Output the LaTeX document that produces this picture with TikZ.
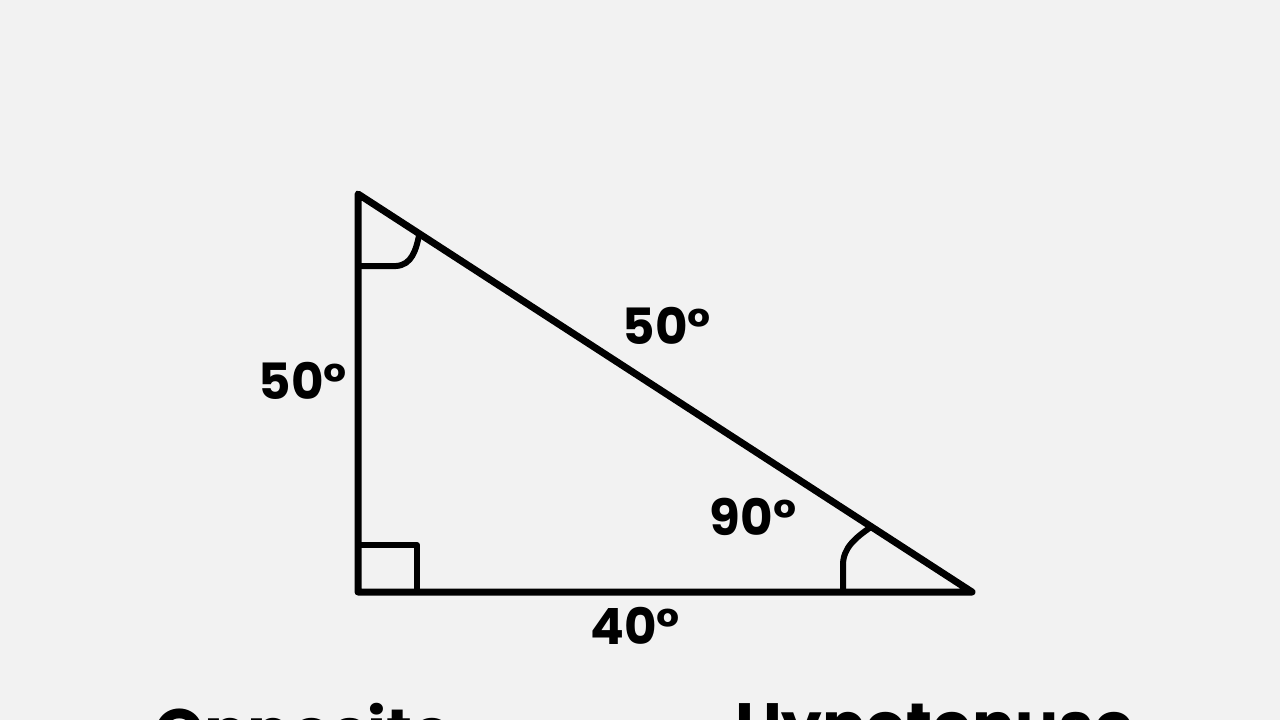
\documentclass[tikz,border=0pt]{standalone}
\usepackage{fontspec}
\setmainfont{Poppins}
\usetikzlibrary{calc}
\definecolor{bg}{HTML}{F2F2F2}
\tikzset{
  edge/.style={line width=7pt, line join=round, line cap=round, black},
  anglemark/.style={line width=6pt, line join=round, black},
  lbl/.style={font=\fontsize{50}{56}\selectfont\bfseries, inner sep=0pt, text=black},
  big/.style={font=\fontsize{64}{70}\selectfont\bfseries, inner sep=0pt, anchor=north west, text=black}
}
\begin{document}
\begin{tikzpicture}[x=1pt,y=-1pt]
\useasboundingbox (0,0) rectangle (1280,720);
\fill[bg] (0,0) rectangle (1280,720);
\clip (0,0) rectangle (1280,720);
\coordinate (A) at (358,194);
\coordinate (B) at (358,592);
\coordinate (C) at (972,592);
% right-angle mark
\coordinate (s1) at (358,545);
\coordinate (s2) at (417,545);
\coordinate (s3) at (417,592);
\draw[anglemark] (s1) -- (s2) -- (s3);
% angle arcs
\coordinate (t1) at (358,266);
\coordinate (t2) at ($(A)!0.1!(C)$);
\draw[anglemark] (t1) -- (396,266) .. controls (412,265) and (416,250) .. (t2);
\coordinate (r1) at (843,592);
\coordinate (r2) at ($(A)!0.836!(C)$);
\draw[anglemark] (r1) -- (843,565) .. controls (843,548) and (855,538) .. (r2);
% triangle
\draw[edge] (A) -- (B) -- (C) -- cycle;
% labels
\node[lbl] (l1) at (303,381) {50°};
\node[lbl] (l2) at (667,326) {50°};
\node[lbl] (l3) at (753,517) {90°};
\node[lbl] (l4) at (635,626) {40°};
% bottom text (cut by the frame, as in the reference)
\node[big] (b1) at (154,703) {Opposite};
\node[big] (b2) at (735,703) {Hypotenuse};
\end{tikzpicture}
\end{document}
